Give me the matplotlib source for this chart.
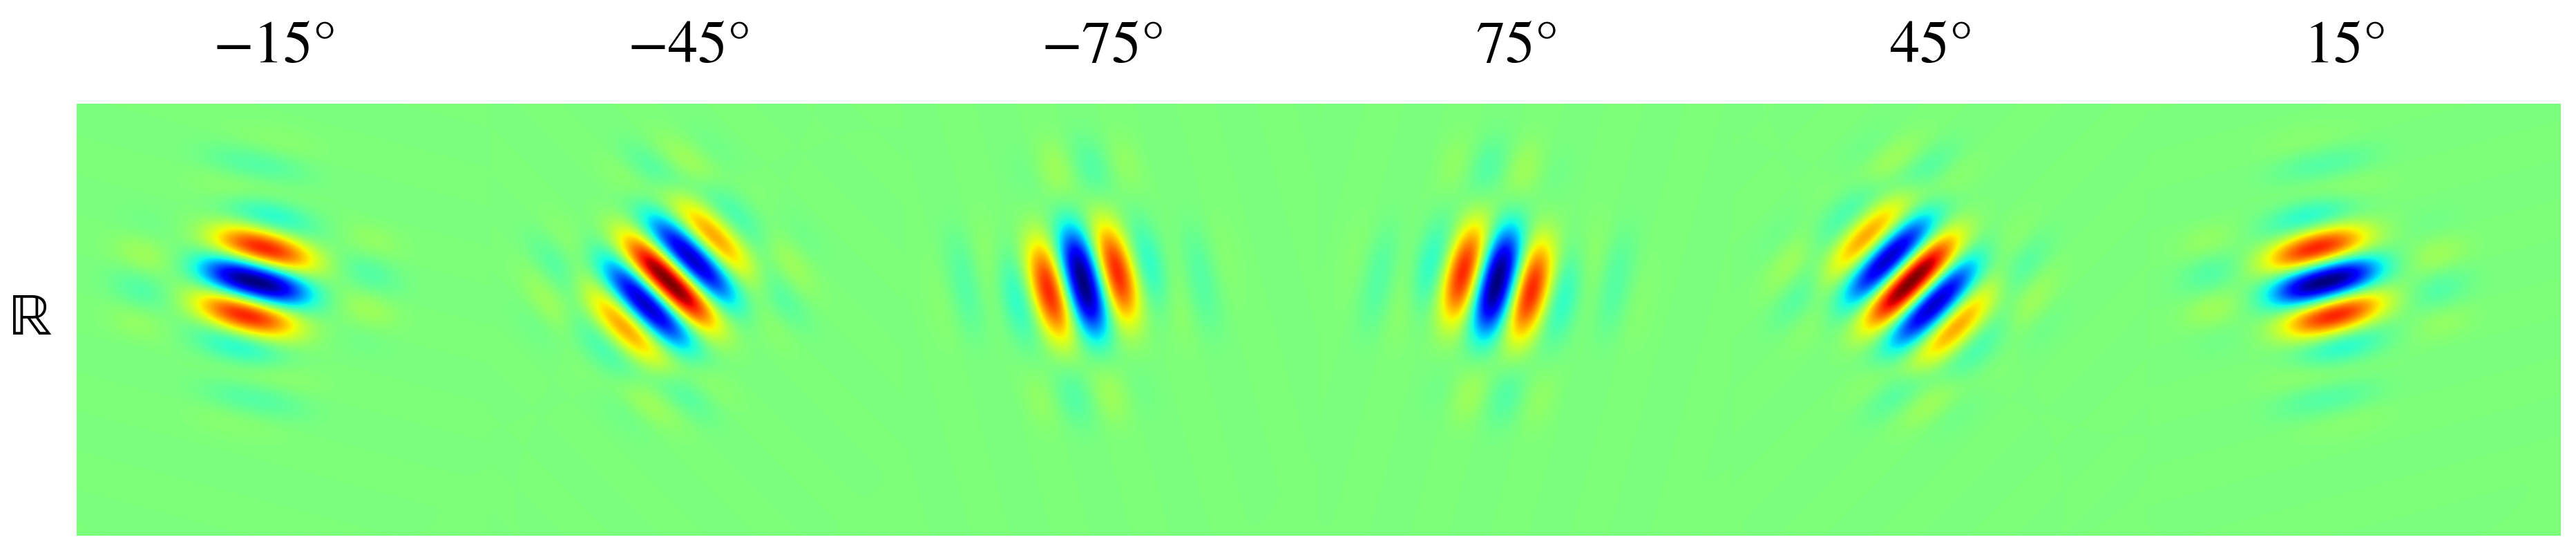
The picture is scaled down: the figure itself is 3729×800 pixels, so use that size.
import numpy as np
import matplotlib
matplotlib.use("Agg")
import matplotlib.pyplot as plt

plt.rcParams["font.family"] = ["STIXGeneral", "Liberation Serif", "DejaVu Serif"]

# subband orientations, left to right
angles = [-15, -45, -75, 75, 45, 15]
labels = ["\u221215\u00b0", "\u221245\u00b0", "\u221275\u00b0",
          "75\u00b0", "45\u00b0", "15\u00b0"]
# sign of the real part at the wavelet centre (+1 red, -1 blue)
centre_sign = [-1, 1, -1, -1, 1, -1]
# half period of the oscillation across the bands (pixels)
half_period = [55, 49, 56, 56, 49, 55]
# envelope size along / across the bands (pixels)
along_scale = [78, 86, 78, 78, 86, 78]
across_scale = [86, 105, 86, 86, 105, 86]

nx, ny = 600, 625      # one tile
cx, cy = 258, 257      # wavelet centre inside a tile


def window(s, a):
    return np.exp(-(np.abs(s) / a) ** 2.5)


def ring(s):
    return np.exp(-((np.abs(s) - 165) / 45) ** 2)


def wavelet(theta, sign, h, au, av):
    x = np.arange(nx) - cx
    y = np.arange(ny) - cy
    X, Y = np.meshgrid(x, y)
    t = np.deg2rad(theta)
    # image y axis points down
    u = X * np.cos(t) - Y * np.sin(t)   # along the bands
    v = X * np.sin(t) + Y * np.cos(t)   # across the bands
    r = np.sqrt((u / au) ** 2 + (v / av) ** 2)
    env = np.exp(-r ** 2.5)
    env -= 0.1 * (ring(X) * window(Y, 80) + window(X, 80) * ring(Y))
    w = sign * env * np.cos(np.pi * v / h)
    return w / np.abs(w).max()


tiles = [wavelet(*p) for p in
         zip(angles, centre_sign, half_period, along_scale, across_scale)]
img = np.hstack(tiles)

fig = plt.figure(figsize=(37.3, 8), dpi=100)
ax = fig.add_axes([111 / 3730, 25 / 800, 3596 / 3730, 625 / 800])
ax.imshow(img, cmap="jet", vmin=-1, vmax=1, aspect="auto",
          interpolation="bilinear", extent=[0, 6 * nx, ny, 0])
ax.set_xticks([])
ax.set_yticks([])
for s in ax.spines.values():
    s.set_visible(False)

for i, lab in enumerate(labels):
    xc = (111 + (i + 0.5) * 3596 / 6 - 12) / 3730
    fig.text(xc, 1 - 90 / 800, lab, ha="center", va="baseline", fontsize=62)

fig.text(45 / 3730, 1 - 464 / 800, "\u211d", ha="center", va="center",
         fontsize=62)

fig.savefig("out.png", dpi=100)
